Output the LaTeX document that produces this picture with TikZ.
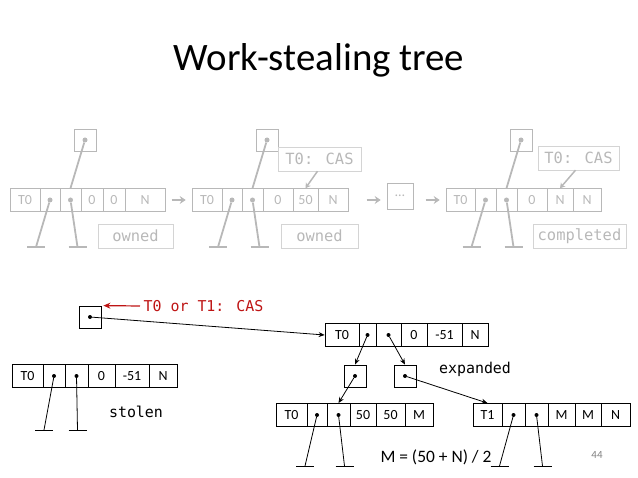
\documentclass[tikz,border=0pt]{standalone}
\usepackage{fontspec}
\setmainfont{Carlito}
\newfontfamily\codefont{DejaVu Sans Mono}
\usetikzlibrary{arrows.meta}
\definecolor{fade}{gray}{0.72}
\definecolor{casred}{RGB}{190,20,20}
\tikzset{
  cell/.style={draw, inner sep=0pt, minimum height=23bp, font=\fontsize{14}{14}\selectfont},
  ghost/.style={cell, draw=fade, text=fade, line width=0.6pt},
  solid cell/.style={cell, line width=0.8pt},
  tag/.style={draw=fade!60, text=fade, font=\codefont\fontsize{15.5}{15.5}\selectfont, inner sep=0pt, minimum height=24bp},
  dot/.style={circle, fill, inner sep=0pt, minimum size=4bp},
  gdot/.style={circle, fill=fade, inner sep=0pt, minimum size=5bp},
  gptr/.style={draw=fade, line width=1.8pt},
  ptr/.style={draw, line width=0.8pt},
  bar/.style={line width=1.8pt}
}
% one row of cells: prefix, y, list of left/right/text
\newcommand\cellrow[4]{%
  \foreach \a/\b/\t [count=\k] in {#4}
    \node[#1, minimum width={(\b-\a)*1bp}] (#2\k) at ({(\a+\b)/2},#3) {\t};}
\begin{document}
\begin{tikzpicture}[x=1bp,y=-1bp]
\useasboundingbox (0,0) rectangle (638,478);

\node[font=\fontsize{39}{39}\selectfont] (title) at (319,60) {Work-stealing tree};

% top: three snapshots
\cellrow{ghost}{a}{200}{10/40/T0,40/60/,60/81/,81/103/0,103/125/0,125/165/N}
\cellrow{ghost}{b}{200}{192/222/T0,222/242/,242/263/,263/293/0,293/318/50,318/348/N}
\cellrow{ghost}{c}{200}{446/475/T0,475/496/,496/517/,517/547/0,547/573/N,573/601/N}
\node[ghost, minimum width=26bp, minimum height=26bp] (dots) at (400,196) {\dots};

\foreach \r/\x in {a/85,b/267,c/521} {
  \node[ghost, minimum size=22bp] (\r root) at (\x,140) {};
  \node[gdot] (\r rd) at (\r root.center) {};
  \node[gdot] (\r d2) at (\r2.center) {};
  \node[gdot] (\r d3) at (\r3.center) {};
  \draw[gptr] (\r rd) -- (\r3.north);
  \coordinate (\r l) at ([xshift=-14bp,yshift=-47bp]\r2.center);
  \coordinate (\r r) at ([xshift=7bp,yshift=-47bp]\r3.center);
  \draw[gptr] (\r d2) -- (\r l);
  \draw[gptr] (\r d3) -- (\r r);
  \draw[bar, draw=fade] ([xshift=-9bp]\r l) -- ([xshift=9bp]\r l);
  \draw[bar, draw=fade] ([xshift=-9bp]\r r) -- ([xshift=9bp]\r r);
}

\node[tag, minimum width=75bp] (own a) at (135.5,236) {owned};
\node[tag, minimum width=77bp] (own b) at (319.5,236) {owned};
\node[tag, minimum width=93bp] (done c) at (579.5,236) {completed};
\node[tag, minimum width=83bp] (cas b) at (319.5,159) {T0: CAS};
\node[tag, minimum width=81bp] (cas c) at (578.5,158) {T0: CAS};
\draw[gptr, line width=1.5pt, -{Stealth[length=5bp,width=6bp]}] ([xshift=-2bp]cas b.south) -- (b5.north);
\draw[gptr, line width=1.5pt, -{Stealth[length=5bp,width=6bp]}] ([xshift=-3bp]cas c.south) -- (c5.north);

\foreach \p/\q in {a6/b1, b6/dots, dots/c1} {
  \coordinate (\p tip) at ([xshift=-6bp]\q.west |- a1);
  \draw[draw=fade, line width=1.5pt, -{Stealth[length=6bp,width=8bp]}] ([xshift=-14bp]\p tip) -- (\p tip);
}

% bottom: after expansion
\node[solid cell, minimum size=22bp] (root) at (90,317) {};
\node[dot] (rootd) at (root.center) {};
\node[text=casred, font=\codefont\fontsize{15}{15}\selectfont, anchor=west] (cas) at (140,306) {T0 or T1: CAS};
\draw[casred, line width=1.2pt, -{Stealth[length=7bp,width=6bp]}] (cas.west) -- ([xshift=2bp]root.north east);

\cellrow{solid cell}{m}{335}{325/359/T0,359/376/,376/401/,401/427/0,427/462/-51,462/488/N}
\cellrow{solid cell}{s}{376}{12/43/T0,43/65/,65/88/,88/115/0,115/149/-51,149/177/N}
\cellrow{solid cell}{l}{415}{276/307/T0,307/327/,327/350/,350/376/50,376/405/50,405/433/M}
\cellrow{solid cell}{r}{415}{473/502/T1,502/525/,525/548/,548/575/M,575/601/M,601/630/N}
\node[solid cell, minimum size=22bp] (kl) at (355,376) {};
\node[solid cell, minimum size=22bp] (kr) at (405,376) {};

\draw[ptr, -{Stealth[length=6bp,width=5bp]}] (rootd) -- (m1.west);
\foreach \n in {m2,m3,s2,s3,l2,l3,r2,r3,kl,kr}
  \node[dot] (\n d) at (\n.center) {};
\draw[ptr, -{Stealth[length=6bp,width=5bp]}] (m2d) -- (kl.north);
\draw[ptr, -{Stealth[length=6bp,width=5bp]}] (m3d) -- (kr.north);
\draw[ptr, -{Stealth[length=6bp,width=5bp]}] (kld) -- (l3.north);
\draw[ptr, -{Stealth[length=6bp,width=5bp]}] (krd) -- (r1.north);

\foreach \n/\dx/\y in {s2/-10/430,s3/1/430,l2/-12/466,l3/6/466,r2/-14/466,r3/6/466} {
  \coordinate (\n e) at ([xshift=\dx bp]\n.center |- 0,\y);
  \draw[ptr] (\n d) -- (\n e);
  \draw[ptr] ([xshift=-9bp]\n e) -- ([xshift=9bp]\n e);
}

\node[font=\codefont\fontsize{15}{15}\selectfont] (stolen) at (136,412) {stolen};
\node[font=\codefont\fontsize{15}{15}\selectfont] (expanded) at (475,369) {expanded};
\node[font=\fontsize{17.5}{17.5}\selectfont] (mdef) at (436,457) {M = (50 + N) / 2};
\node[text=gray, font=\fontsize{11}{11}\selectfont] (page) at (597,455) {44};
\end{tikzpicture}
\end{document}
